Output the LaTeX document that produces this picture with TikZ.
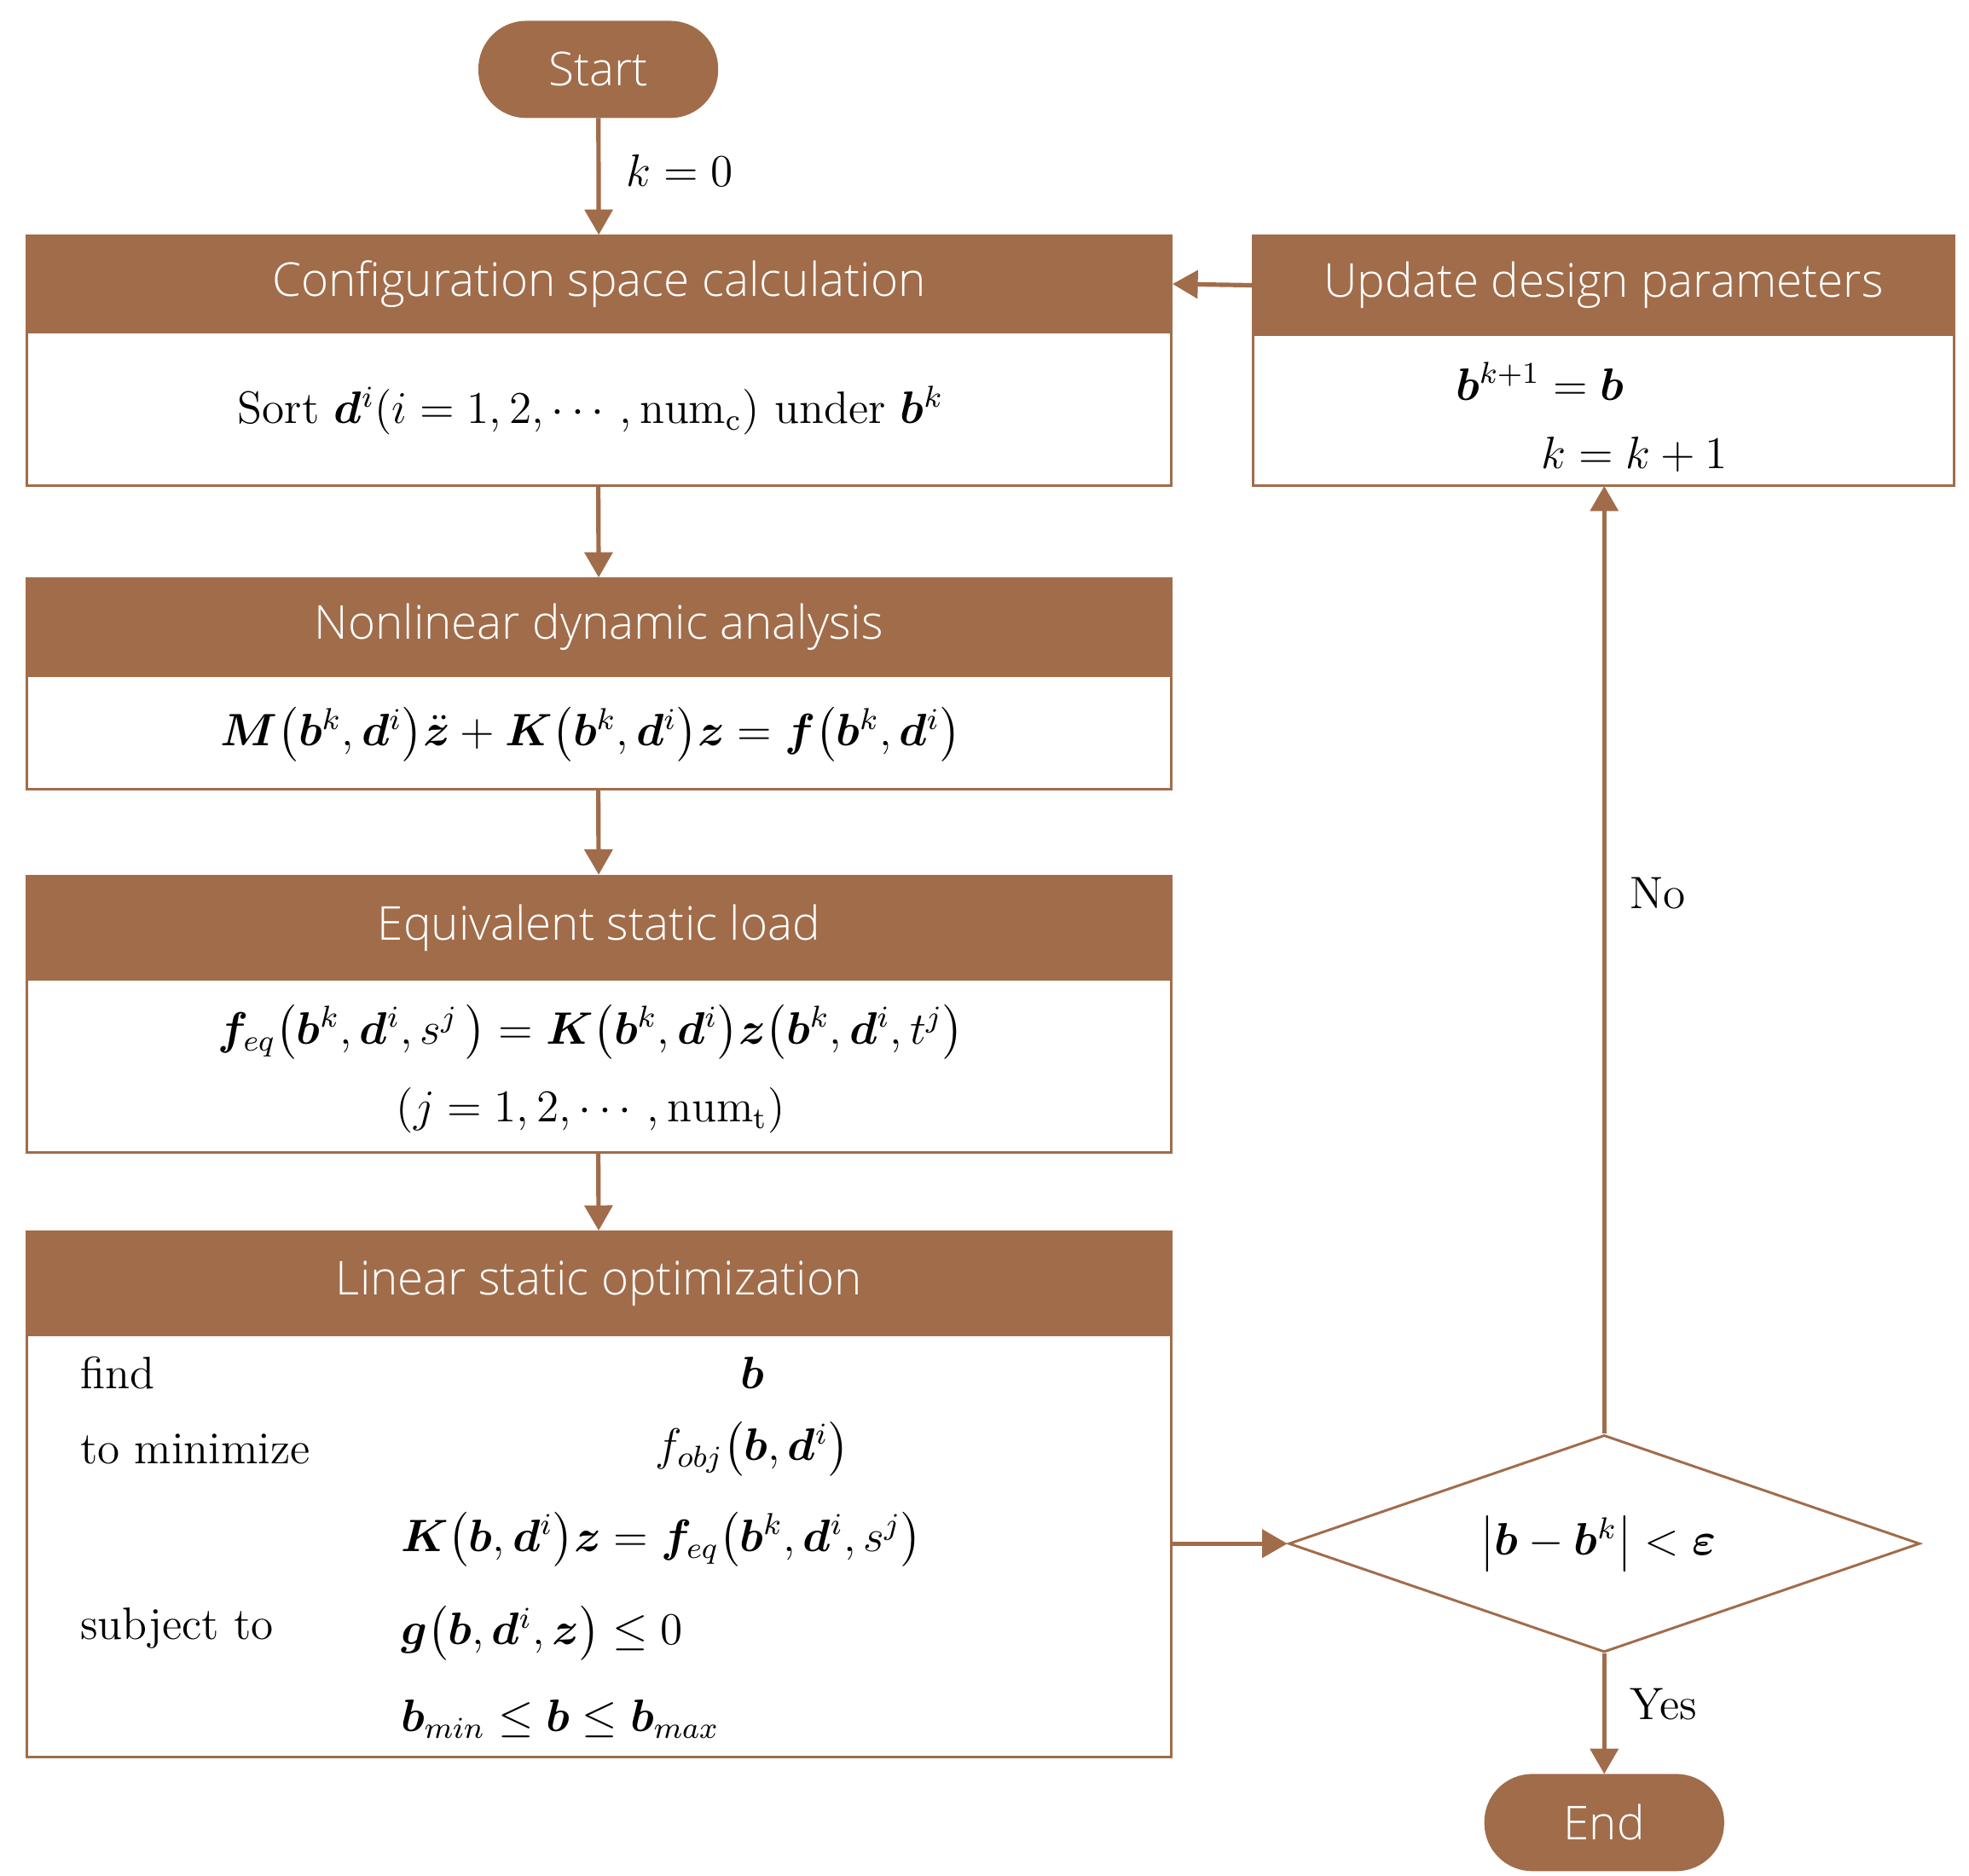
\documentclass[tikz,border=0pt]{standalone}
\usepackage{amsmath}
\usepackage{bm}
\usepackage{fontspec}
\newfontfamily\hdr{Open Sans Light}
\usetikzlibrary{shapes.geometric,arrows.meta}
\definecolor{brn}{RGB}{161,108,74}
\begin{document}
\begin{tikzpicture}[x=1pt,y=-1pt,
 hd/.style={draw=brn,fill=brn,line width=2pt,text=white,font=\hdr\fontsize{37}{44}\selectfont},
 bd/.style={draw=brn,line width=2pt,fill=white},
 tx/.style={font=\fontsize{12}{14}\selectfont,scale=3,transform shape,inner sep=1pt},
 ar/.style={draw=brn,line width=3.5pt,-{Triangle[length=20pt,width=22pt]}}]
\useasboundingbox (0,0) rectangle (1560,1486);
\node[hd,rounded corners=37pt,minimum width=188pt,minimum height=75pt] (start) at (474,55) {Start};
\node[hd,rounded corners=37pt,minimum width=188pt,minimum height=75pt] (end) at (1271,1444) {End};
% box1
\draw[bd] (21,263) rectangle (928,385);
\node[hd,minimum width=907pt,minimum height=76pt] (h1) at (474.5,225) {Configuration space calculation};
\node[tx] (b1) at (468,325) {Sort $\bm{d}^i(i=1,2,\cdots,\mathrm{num_c})$ under $\bm{b}^k$};
\coordinate (b1s) at (474,385);
% box2
\draw[bd] (21,535) rectangle (928,625);
\node[hd,minimum width=907pt,minimum height=77pt] (h2) at (474.5,497) {Nonlinear dynamic analysis};
\node[tx] (b2) at (468,582) {$\bm{M}\big(\bm{b}^k,\bm{d}^i\big)\ddot{\bm{z}}+\bm{K}\big(\bm{b}^k,\bm{d}^i\big)\bm{z}=\bm{f}\big(\bm{b}^k,\bm{d}^i\big)$};
\coordinate (b2s) at (474,625);
% box3
\draw[bd] (21,775) rectangle (928,913);
\node[hd,minimum width=907pt,minimum height=82pt] (h3) at (474.5,735) {Equivalent static load};
\node[tx] (b3) at (468,818) {$\bm{f}_{eq}\big(\bm{b}^k,\bm{d}^i,s^j\,\big)=\bm{K}\big(\bm{b}^k,\bm{d}^i\big)\bm{z}\big(\bm{b}^k,\bm{d}^i,t^j\big)$};
\node[tx] (b3b) at (468,880) {$(j=1,2,\cdots,\mathrm{num_t})$};
\coordinate (b3s) at (474,913);
% box4
\draw[bd] (21,1057) rectangle (928,1392);
\node[hd,minimum width=907pt,minimum height=82pt] (h4) at (474.5,1017) {Linear static optimization};
\node[tx,anchor=west] (f1) at (60,1088) {find};
\node[tx,anchor=west] (f2) at (60,1148) {to minimize};
\node[tx,anchor=west] (f3) at (60,1290) {subject to};
\node[tx] (m1) at (596,1088) {$\bm{b}$};
\node[tx] (m2) at (596,1148) {$f_{obj}\big(\bm{b},\bm{d}^i\big)$};
\node[tx,anchor=west] (m3) at (314,1220) {$\bm{K}\big(\bm{b},\bm{d}^i\big)\bm{z}=\bm{f}_{eq}\big(\bm{b}^k,\bm{d}^i,s^j\big)$};
\node[tx,anchor=west] (m4) at (314,1294) {$\bm{g}\big(\bm{b},\bm{d}^i,\bm{z}\big)\le 0$};
\node[tx,anchor=west] (m5) at (314,1362) {$\bm{b}_{min}\le\bm{b}\le\bm{b}_{max}$};
\coordinate (b4e) at (928,1223);
% right box
\draw[bd] (993,265) rectangle (1548,385);
\node[hd,minimum width=555pt,minimum height=78pt] (hr) at (1270.5,226) {Update design parameters};
\node[tx] (r1) at (1220,302) {$\bm{b}^{k+1}=\bm{b}$};
\node[tx] (r2) at (1295,360) {$k=k+1$};
\coordinate (rs) at (1271,385);
% diamond
\node[diamond,draw=brn,line width=2pt,aspect=2.9,minimum width=500pt,minimum height=172pt,inner sep=0pt] (dia) at (1271,1223) {};
\node[tx] (cond) at (1266,1223) {$\big|\bm{b}-\bm{b}^k\big|<\bm{\varepsilon}$};
% arrows
\draw[ar] (start) -- (h1) node[pos=0.45,anchor=west,xshift=14pt,tx,text=black] {$k=0$};
\draw[ar] (b1s) -- (h2);
\draw[ar] (b2s) -- (h3);
\draw[ar] (b3s) -- (h4);
\draw[ar] (b4e) -- (dia.west);
\draw[ar] (dia.north) -- (rs) node[pos=0.57,anchor=west,xshift=12pt,tx,text=black] {No};
\draw[ar] (dia.south) -- (end.north) node[pos=0.42,anchor=west,xshift=12pt,tx,text=black] {Yes};
\draw[ar] (hr.west) -- (h1.east);
\end{tikzpicture}
\end{document}
